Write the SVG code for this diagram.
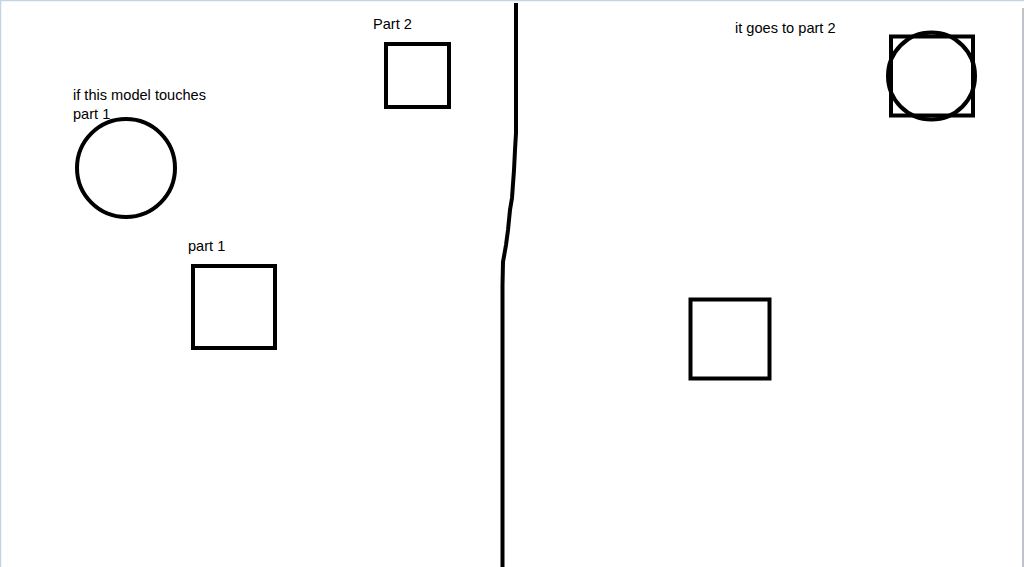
<svg xmlns="http://www.w3.org/2000/svg" width="1024" height="567" viewBox="0 0 1024 567">
<style>
.s{fill:none;stroke:#000;stroke-width:4}
.t{font-family:"Liberation Sans",Arial,sans-serif;font-size:14.6px;fill:#000}
</style>
<rect x="0" y="0" width="1024" height="567" fill="#fff"/>
<line x1="0" y1="0.5" x2="1024" y2="0.5" stroke="#c5d3e6" stroke-width="1.5"/>
<line x1="0.5" y1="0" x2="0.5" y2="567" stroke="#c5d3e6" stroke-width="1.5"/>
<line x1="1023" y1="8" x2="1023" y2="567" stroke="#a9b0b8" stroke-width="1.5"/>
<g id="connectors">
<path class="s" stroke-width="3" d="M516,3 L516,133 L515,150 L514,170 L512,198 L510,210 L508,230 L506,245 L503,262 L502.5,285 L502.5,567"/>
</g>
<g id="circle-left">
<circle class="s" cx="126" cy="168" r="49"/>
<text class="t" x="73" y="100">if this model touches</text>
<text class="t" x="73" y="119">part 1</text>
</g>
<g id="part2">
<rect class="s" x="386" y="44" width="63" height="63"/>
<text class="t" x="373" y="29">Part 2</text>
</g>
<g id="part1">
<rect class="s" x="193" y="266" width="82" height="82"/>
<text class="t" x="188" y="251">part 1</text>
</g>
<g id="right-square">
<rect class="s" x="690.5" y="299.5" width="79" height="79"/>
</g>
<g id="result">
<rect class="s" x="891" y="36.5" width="82" height="79"/>
<circle class="s" stroke-width="5" cx="931.5" cy="76" r="43.5"/>
<text class="t" x="735" y="33">it goes to part 2</text>
</g>
</svg>
